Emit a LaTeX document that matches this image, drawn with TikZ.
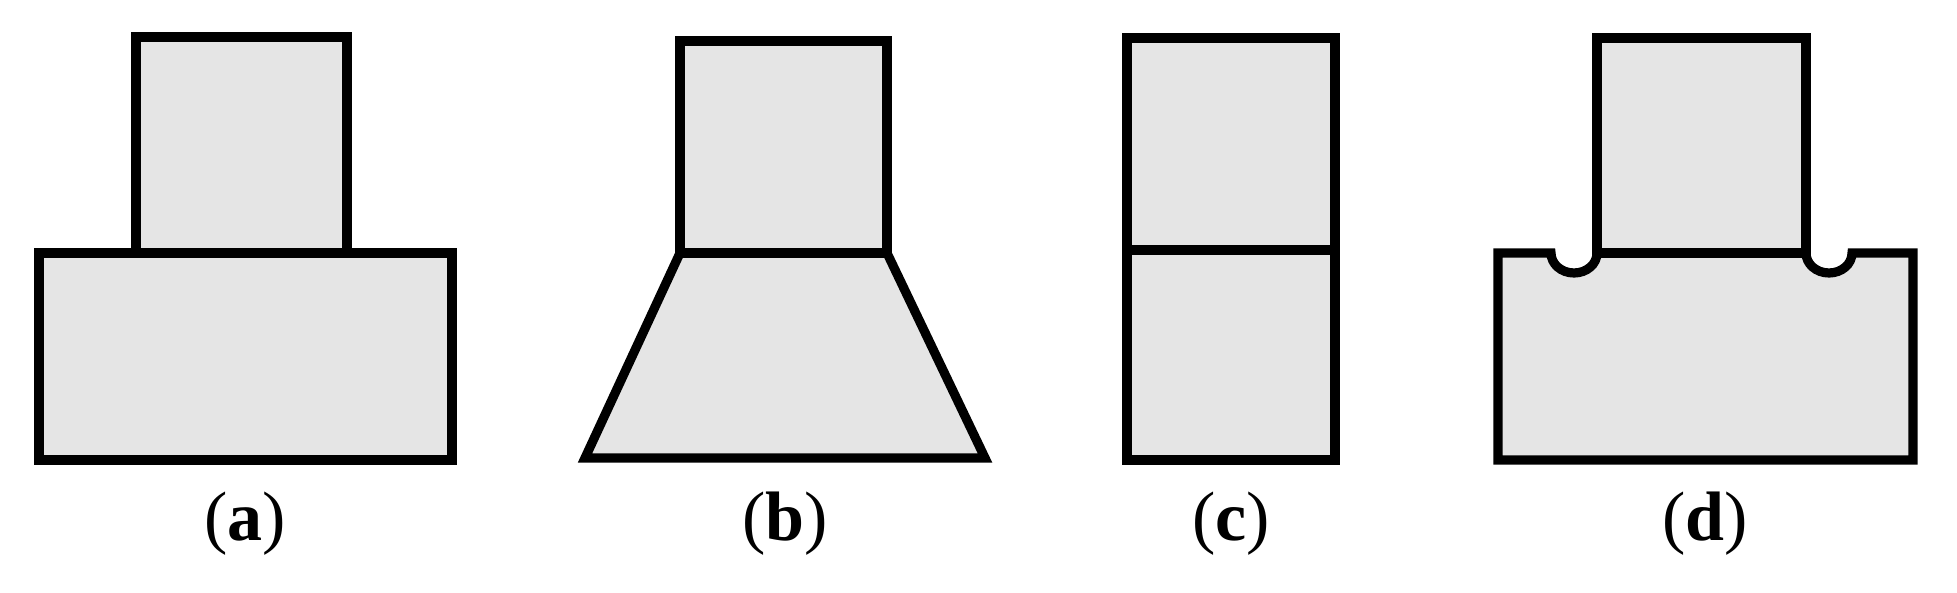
\documentclass[tikz,border=0pt]{standalone}
\usepackage{fontspec}
\setmainfont{Liberation Serif}
\tikzset{
  part/.style={draw=black, fill=black!10, line width=4.6pt},
  lab/.style={anchor=base, inner sep=0pt, font=\fontsize{35}{40}\selectfont}
}
\begin{document}
\begin{tikzpicture}[x=0.5pt,y=0.5pt]
        \useasboundingbox (0,0) rectangle (1957,593);

        % (a)
        \draw[part] (39,133) rectangle (452,340);
        \draw[part] (136,340) rectangle (347,556);

        % (b)
        \draw[part] (585,135) -- (985,135) -- (887,340) -- (680,340) -- cycle;
        \draw[part] (680,340) rectangle (887,552);

        % (c)
        \draw[part] (1127,133) rectangle (1335,343);
        \draw[part] (1127,343) rectangle (1335,555);

        % (d)
        \draw[part] (1498,133) -- (1498,340) -- (1551,340)
              arc (180:360:23 and 20) -- (1806,340)
              arc (180:360:23 and 20) -- (1913,340) -- (1913,133) -- cycle;
        \draw[part] (1597,340) rectangle (1806,555);

        \node[lab] (la) at (245,52) {(\textbf{a})};
        \node[lab] (lb) at (785,52) {(\textbf{b})};
        \node[lab] (lc) at (1231,52) {(\textbf{c})};
        \node[lab] (ld) at (1705,52) {(\textbf{d})};
      \end{tikzpicture}
\end{document}
